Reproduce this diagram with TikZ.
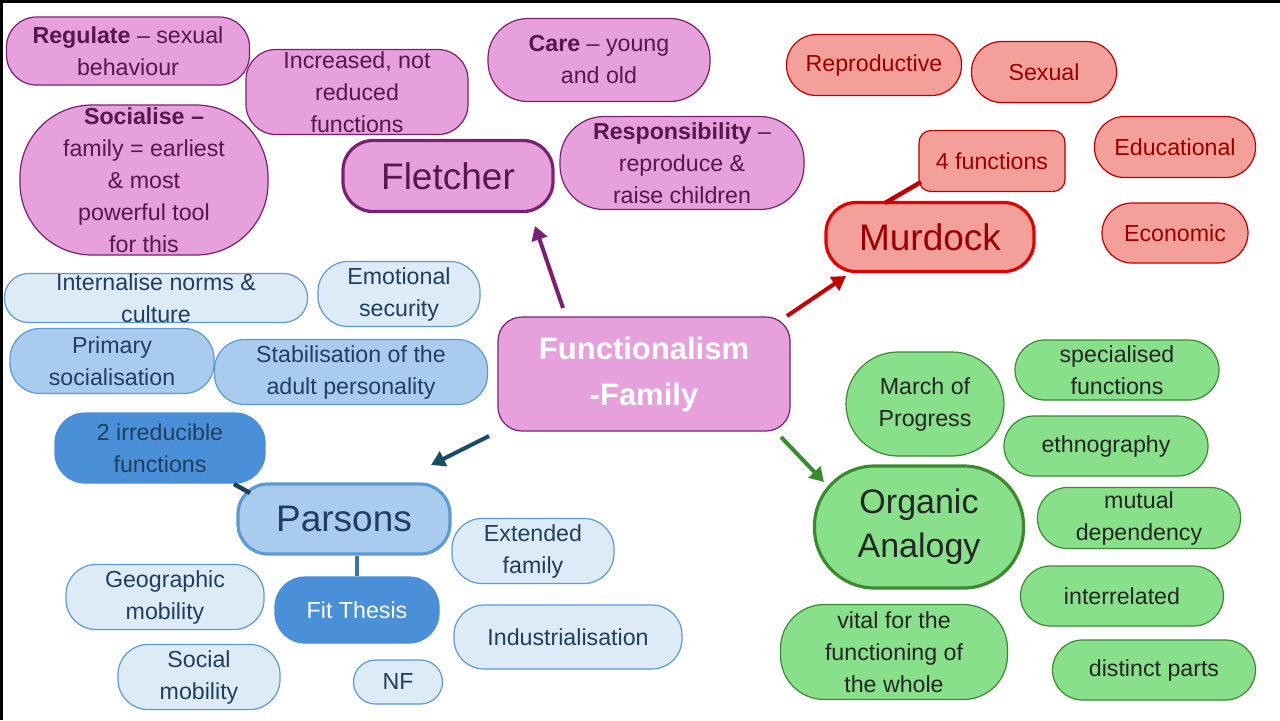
\documentclass[tikz,border=0pt]{standalone}
\usepackage{fontspec}
\setmainfont{Liberation Sans}
\usetikzlibrary{arrows.meta}
\definecolor{pkF}{HTML}{E6A0DC}\definecolor{pkD}{HTML}{7B1F72}
\definecolor{rdF}{HTML}{F4A09A}\definecolor{rdD}{HTML}{C00000}
\definecolor{grF}{HTML}{88E08A}\definecolor{grD}{HTML}{3A8A30}
\definecolor{blL}{HTML}{DDEBF7}\definecolor{blM}{HTML}{A9CBEE}\definecolor{blD}{HTML}{4A90D9}
\definecolor{blB}{HTML}{5B9BD5}\definecolor{blT}{HTML}{1F3F5F}
\tikzset{
 bx/.style={rounded corners=15pt,align=center,inner sep=0pt,font=\fontsize{11.6}{16}\selectfont,line width=0.6pt},
 pk/.style={bx,fill=pkF,draw=pkD,text=pkD!70!black},
 rd/.style={bx,fill=rdF,draw=rdD,text=rdD!80!black},
 gr/.style={bx,fill=grF,draw=grD,text=black!85},
 bl/.style={bx,fill=blL,draw=blB,text=blT},
 bm/.style={bx,fill=blM,draw=blB,text=blT},
 bd/.style={bx,fill=blD,draw=blD,text=white!90!blue},
 big/.style={line width=1.6pt,font=\fontsize{18.5}{22}\selectfont},
 arr/.style={line width=2pt,-{Triangle[width=8pt,length=7pt]}},
}
\newcommand{\bx}[7]{\node[#6,minimum width=#4*0.5pt,minimum height=#5*0.5pt] (#1) at (#2,#3) {#7};}
\begin{document}
\begin{tikzpicture}[x=0.5pt,y=-0.5pt]
\fill[white] (0,0) rectangle (1280,720);
\useasboundingbox (0,0) rectangle (1280,720);
\fill[black] (0,0) rectangle (1280,3);
\fill[black] (0,0) rectangle (3,720);
\bx{reg}{128}{51}{243}{68}{pk}{\textbf{Regulate} -- sexual\\behaviour}
\bx{inc}{357}{92}{222}{85}{pk}{Increased, not\\reduced\\functions}
\bx{care}{599}{60}{222}{83}{pk,rounded corners=20pt}{\textbf{Care} -- young\\and old}
\bx{soc}{144}{180}{248}{150}{pk,rounded corners=36pt}{\textbf{Socialise --}\\family = earliest\\\& most\\powerful tool\\for this}
\bx{fle}{448}{176}{210}{71}{pk,big}{Fletcher}
\bx{resp}{682}{163}{244}{93}{pk,rounded corners=22pt}{\textbf{Responsibility} --\\reproduce \&\\raise children}
\bx{rep}{874}{65}{175}{61}{rd}{Reproductive}
\bx{sex}{1044}{72}{145}{61}{rd}{Sexual}
\bx{four}{992}{161}{146}{61}{rd,rounded corners=6pt}{4 functions}
\bx{edu}{1175}{147}{161}{61}{rd}{Educational}
\bx{mur}{930}{237}{208}{69}{rd,big,draw=red!90!black}{Murdock}
\bx{eco}{1175}{233}{146}{60}{rd}{Economic}
\bx{int}{156}{298}{303}{48}{bl,rounded corners=12pt}{Internalise norms \&\\culture}
\bx{emo}{399}{294}{162}{65}{bl}{Emotional\\security}
\bx{pri}{112}{361}{204}{65}{bm}{Primary\\socialisation}
\bx{sta}{351}{372}{273}{65}{bm}{Stabilisation of the\\adult personality}
\bx{fun}{644}{374}{292}{114}{pk,rounded corners=12pt,font=\bfseries\fontsize{15.5}{23}\selectfont,text=white}{Functionalism\\-Family}
\bx{mar}{925}{404}{158}{104}{gr,rounded corners=26pt}{March of\\Progress}
\bx{spe}{1117}{370}{204}{60}{gr}{specialised\\functions}
\bx{eth}{1106}{446}{204}{60}{gr}{ethnography}
\bx{org}{919}{527}{209}{122}{gr,big,rounded corners=30pt,font=\fontsize{17}{22}\selectfont}{Organic\\Analogy}
\bx{mut}{1139}{518}{203}{61}{gr}{mutual\\dependency}
\bx{itr}{1122}{596}{203}{60}{gr}{interrelated}
\bx{vit}{894}{652}{227}{95}{gr,rounded corners=22pt}{vital for the\\functioning of\\the whole}
\bx{dis}{1154}{670}{203}{60}{gr}{distinct parts}
\bx{irr}{160}{448}{210}{70}{bd,text=blT}{2 irreducible\\functions}
\bx{par}{344}{519}{212}{70}{bm,big,draw=blB}{Parsons}
\bx{ext}{533}{551}{162}{65}{bl}{Extended\\family}
\bx{geo}{165}{597}{198}{65}{bl}{Geographic\\mobility}
\bx{fit}{357}{610}{164}{66}{bd,text=white}{Fit Thesis}
\bx{ind}{568}{637}{228}{64}{bl}{Industrialisation}
\bx{socm}{199}{677}{162}{65}{bl}{Social\\mobility}
\bx{nf}{398}{682}{89}{44}{bl,rounded corners=11pt}{NF}
\coordinate (a1s) at (563,308); \coordinate (a1e) at (535,226);
\coordinate (a2s) at (787,316); \coordinate (a2e) at (846,276);
\coordinate (a3s) at (781,437); \coordinate (a3e) at (824,482);
\coordinate (a4s) at (489,436); \coordinate (a4e) at (431,465);
\coordinate (l1s) at (921,182); \coordinate (l1e) at (885,203);
\coordinate (l2s) at (234,484); \coordinate (l2e) at (250,493);
\draw[arr,draw=pkD] (a1s) -- (a1e);
\draw[arr,draw=rdD!90!red] (a2s) -- (a2e);
\draw[arr,draw=grD] (a3s) -- (a3e);
\draw[arr,draw=blT!80!teal] (a4s) -- (a4e);
\draw[line width=2.2pt,draw=rdD] (l1s) -- (l1e);
\draw[line width=2.2pt,draw=blT] (l2s) -- (l2e);
\draw[line width=2.2pt,draw=blD!80!black] (par.south-|fit) -- (fit.north);
\end{tikzpicture}
\end{document}
